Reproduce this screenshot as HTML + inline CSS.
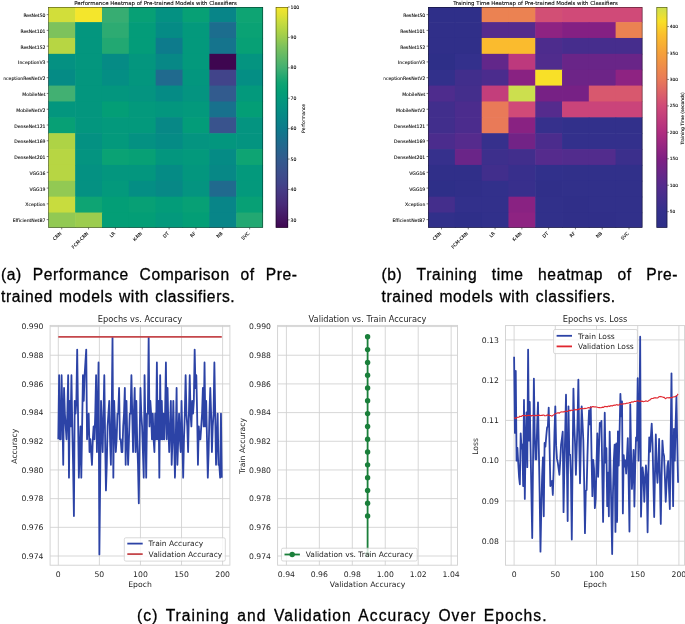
<!DOCTYPE html>
<html><head><meta charset="utf-8"><title>Figure</title>
<style>html,body{margin:0;padding:0;background:#fff}body{width:685px;height:624px;position:relative;overflow:hidden}svg{position:absolute;left:0;top:0}svg text{font-family:'DejaVu Sans','Liberation Sans',sans-serif}.ht{stroke:#000;stroke-width:0.08px}.cap{position:absolute;font-family:"Liberation Sans",sans-serif;font-size:15.6px;line-height:21.6px;letter-spacing:0.6px;color:#000;-webkit-text-stroke:0.3px #000;text-align:justify;white-space:nowrap}</style></head><body>
<svg width="685" height="624" viewBox="0 0 685 624">
<defs>
<linearGradient id="gv" x1="0" y1="0" x2="0" y2="1">
<stop offset="0.0000" stop-color="#f4e62c"/>
<stop offset="0.0413" stop-color="#dde035"/>
<stop offset="0.0689" stop-color="#c8dc3e"/>
<stop offset="0.1102" stop-color="#aed345"/>
<stop offset="0.1377" stop-color="#9ccc4e"/>
<stop offset="0.1791" stop-color="#7dc25c"/>
<stop offset="0.2066" stop-color="#6cbc62"/>
<stop offset="0.2755" stop-color="#42b072"/>
<stop offset="0.3168" stop-color="#22a872"/>
<stop offset="0.3444" stop-color="#0ea473"/>
<stop offset="0.3857" stop-color="#039e76"/>
<stop offset="0.4132" stop-color="#03997c"/>
<stop offset="0.4545" stop-color="#049182"/>
<stop offset="0.4821" stop-color="#058b85"/>
<stop offset="0.5510" stop-color="#0d7b8c"/>
<stop offset="0.6198" stop-color="#206a8e"/>
<stop offset="0.6887" stop-color="#325b8e"/>
<stop offset="0.7576" stop-color="#3d4d8c"/>
<stop offset="0.7989" stop-color="#41448a"/>
<stop offset="0.8264" stop-color="#453c86"/>
<stop offset="0.8953" stop-color="#482a78"/>
<stop offset="0.9642" stop-color="#44145f"/>
<stop offset="1.0000" stop-color="#3e0650"/>
</linearGradient>
<linearGradient id="gp" x1="0" y1="0" x2="0" y2="1">
<stop offset="0.0000" stop-color="#ccdf4e"/>
<stop offset="0.0647" stop-color="#f8e028"/>
<stop offset="0.1246" stop-color="#fbbf2c"/>
<stop offset="0.2084" stop-color="#f5a03a"/>
<stop offset="0.3281" stop-color="#e97a58"/>
<stop offset="0.4479" stop-color="#d04a78"/>
<stop offset="0.5677" stop-color="#b02d80"/>
<stop offset="0.6874" stop-color="#7f1f83"/>
<stop offset="0.8072" stop-color="#552b8d"/>
<stop offset="0.9269" stop-color="#33308c"/>
<stop offset="1.0000" stop-color="#2e2f88"/>
</linearGradient>
</defs>
<rect width="685" height="624" fill="#fff"/>
<g>
<rect x="48.30" y="7.00" width="27.44" height="15.70" fill="#d2de3a"/>
<rect x="75.14" y="7.00" width="27.44" height="15.70" fill="#f4e62c"/>
<rect x="101.99" y="7.00" width="27.44" height="15.70" fill="#37ad72"/>
<rect x="128.83" y="7.00" width="27.44" height="15.70" fill="#07a075"/>
<rect x="155.68" y="7.00" width="27.44" height="15.70" fill="#049182"/>
<rect x="182.52" y="7.00" width="27.44" height="15.70" fill="#07a075"/>
<rect x="209.36" y="7.00" width="27.44" height="15.70" fill="#088588"/>
<rect x="236.21" y="7.00" width="26.84" height="15.70" fill="#0ea473"/>
<rect x="48.30" y="22.10" width="27.44" height="16.47" fill="#7dc25c"/>
<rect x="75.14" y="22.10" width="27.44" height="16.47" fill="#03967e"/>
<rect x="101.99" y="22.10" width="27.44" height="16.47" fill="#2dab72"/>
<rect x="128.83" y="22.10" width="27.44" height="16.47" fill="#039c79"/>
<rect x="155.68" y="22.10" width="27.44" height="16.47" fill="#058b85"/>
<rect x="182.52" y="22.10" width="27.44" height="16.47" fill="#03997c"/>
<rect x="209.36" y="22.10" width="27.44" height="16.47" fill="#1c6d8e"/>
<rect x="236.21" y="22.10" width="26.84" height="16.47" fill="#0aa274"/>
<rect x="48.30" y="37.97" width="27.44" height="16.47" fill="#b7d643"/>
<rect x="75.14" y="37.97" width="27.44" height="16.47" fill="#03967e"/>
<rect x="101.99" y="37.97" width="27.44" height="16.47" fill="#22a872"/>
<rect x="128.83" y="37.97" width="27.44" height="16.47" fill="#039c79"/>
<rect x="155.68" y="37.97" width="27.44" height="16.47" fill="#0d7b8c"/>
<rect x="182.52" y="37.97" width="27.44" height="16.47" fill="#03997c"/>
<rect x="209.36" y="37.97" width="27.44" height="16.47" fill="#15748d"/>
<rect x="236.21" y="37.97" width="26.84" height="16.47" fill="#07a075"/>
<rect x="48.30" y="53.84" width="27.44" height="16.47" fill="#049182"/>
<rect x="75.14" y="53.84" width="27.44" height="16.47" fill="#03967e"/>
<rect x="101.99" y="53.84" width="27.44" height="16.47" fill="#058b85"/>
<rect x="128.83" y="53.84" width="27.44" height="16.47" fill="#03967e"/>
<rect x="155.68" y="53.84" width="27.44" height="16.47" fill="#078886"/>
<rect x="182.52" y="53.84" width="27.44" height="16.47" fill="#03997c"/>
<rect x="209.36" y="53.84" width="27.44" height="16.47" fill="#3e0650"/>
<rect x="236.21" y="53.84" width="26.84" height="16.47" fill="#049480"/>
<rect x="48.30" y="69.71" width="27.44" height="16.47" fill="#058b85"/>
<rect x="75.14" y="69.71" width="27.44" height="16.47" fill="#03967e"/>
<rect x="101.99" y="69.71" width="27.44" height="16.47" fill="#048e84"/>
<rect x="128.83" y="69.71" width="27.44" height="16.47" fill="#03967e"/>
<rect x="155.68" y="69.71" width="27.44" height="16.47" fill="#206a8e"/>
<rect x="182.52" y="69.71" width="27.44" height="16.47" fill="#03967e"/>
<rect x="209.36" y="69.71" width="27.44" height="16.47" fill="#41448a"/>
<rect x="236.21" y="69.71" width="26.84" height="16.47" fill="#048e84"/>
<rect x="48.30" y="85.58" width="27.44" height="16.47" fill="#42b072"/>
<rect x="75.14" y="85.58" width="27.44" height="16.47" fill="#03967e"/>
<rect x="101.99" y="85.58" width="27.44" height="16.47" fill="#03967e"/>
<rect x="128.83" y="85.58" width="27.44" height="16.47" fill="#049480"/>
<rect x="155.68" y="85.58" width="27.44" height="16.47" fill="#058b85"/>
<rect x="182.52" y="85.58" width="27.44" height="16.47" fill="#049480"/>
<rect x="209.36" y="85.58" width="27.44" height="16.47" fill="#325b8e"/>
<rect x="236.21" y="85.58" width="26.84" height="16.47" fill="#03997c"/>
<rect x="48.30" y="101.45" width="27.44" height="16.47" fill="#03967e"/>
<rect x="75.14" y="101.45" width="27.44" height="16.47" fill="#03967e"/>
<rect x="101.99" y="101.45" width="27.44" height="16.47" fill="#039e76"/>
<rect x="128.83" y="101.45" width="27.44" height="16.47" fill="#03997c"/>
<rect x="155.68" y="101.45" width="27.44" height="16.47" fill="#03967e"/>
<rect x="182.52" y="101.45" width="27.44" height="16.47" fill="#03997c"/>
<rect x="209.36" y="101.45" width="27.44" height="16.47" fill="#18718d"/>
<rect x="236.21" y="101.45" width="26.84" height="16.47" fill="#039e76"/>
<rect x="48.30" y="117.32" width="27.44" height="16.47" fill="#07a075"/>
<rect x="75.14" y="117.32" width="27.44" height="16.47" fill="#03967e"/>
<rect x="101.99" y="117.32" width="27.44" height="16.47" fill="#03997c"/>
<rect x="128.83" y="117.32" width="27.44" height="16.47" fill="#03997c"/>
<rect x="155.68" y="117.32" width="27.44" height="16.47" fill="#078886"/>
<rect x="182.52" y="117.32" width="27.44" height="16.47" fill="#039c79"/>
<rect x="209.36" y="117.32" width="27.44" height="16.47" fill="#39538d"/>
<rect x="236.21" y="117.32" width="26.84" height="16.47" fill="#049480"/>
<rect x="48.30" y="133.19" width="27.44" height="16.47" fill="#aed345"/>
<rect x="75.14" y="133.19" width="27.44" height="16.47" fill="#049182"/>
<rect x="101.99" y="133.19" width="27.44" height="16.47" fill="#03997c"/>
<rect x="128.83" y="133.19" width="27.44" height="16.47" fill="#049182"/>
<rect x="155.68" y="133.19" width="27.44" height="16.47" fill="#058b85"/>
<rect x="182.52" y="133.19" width="27.44" height="16.47" fill="#049480"/>
<rect x="209.36" y="133.19" width="27.44" height="16.47" fill="#03967e"/>
<rect x="236.21" y="133.19" width="26.84" height="16.47" fill="#049480"/>
<rect x="48.30" y="149.06" width="27.44" height="16.47" fill="#b7d643"/>
<rect x="75.14" y="149.06" width="27.44" height="16.47" fill="#049480"/>
<rect x="101.99" y="149.06" width="27.44" height="16.47" fill="#0aa274"/>
<rect x="128.83" y="149.06" width="27.44" height="16.47" fill="#07a075"/>
<rect x="155.68" y="149.06" width="27.44" height="16.47" fill="#03967e"/>
<rect x="182.52" y="149.06" width="27.44" height="16.47" fill="#03997c"/>
<rect x="209.36" y="149.06" width="27.44" height="16.47" fill="#058b85"/>
<rect x="236.21" y="149.06" width="26.84" height="16.47" fill="#0ea473"/>
<rect x="48.30" y="164.93" width="27.44" height="16.47" fill="#b7d643"/>
<rect x="75.14" y="164.93" width="27.44" height="16.47" fill="#049182"/>
<rect x="101.99" y="164.93" width="27.44" height="16.47" fill="#03967e"/>
<rect x="128.83" y="164.93" width="27.44" height="16.47" fill="#03967e"/>
<rect x="155.68" y="164.93" width="27.44" height="16.47" fill="#058b85"/>
<rect x="182.52" y="164.93" width="27.44" height="16.47" fill="#03967e"/>
<rect x="209.36" y="164.93" width="27.44" height="16.47" fill="#078886"/>
<rect x="236.21" y="164.93" width="26.84" height="16.47" fill="#03997c"/>
<rect x="48.30" y="180.80" width="27.44" height="16.47" fill="#92c953"/>
<rect x="75.14" y="180.80" width="27.44" height="16.47" fill="#049182"/>
<rect x="101.99" y="180.80" width="27.44" height="16.47" fill="#03997c"/>
<rect x="128.83" y="180.80" width="27.44" height="16.47" fill="#048e84"/>
<rect x="155.68" y="180.80" width="27.44" height="16.47" fill="#078886"/>
<rect x="182.52" y="180.80" width="27.44" height="16.47" fill="#049480"/>
<rect x="209.36" y="180.80" width="27.44" height="16.47" fill="#206a8e"/>
<rect x="236.21" y="180.80" width="26.84" height="16.47" fill="#03997c"/>
<rect x="48.30" y="196.67" width="27.44" height="16.47" fill="#c8dc3e"/>
<rect x="75.14" y="196.67" width="27.44" height="16.47" fill="#0ea473"/>
<rect x="101.99" y="196.67" width="27.44" height="16.47" fill="#039e76"/>
<rect x="128.83" y="196.67" width="27.44" height="16.47" fill="#07a075"/>
<rect x="155.68" y="196.67" width="27.44" height="16.47" fill="#039c79"/>
<rect x="182.52" y="196.67" width="27.44" height="16.47" fill="#07a075"/>
<rect x="209.36" y="196.67" width="27.44" height="16.47" fill="#088588"/>
<rect x="236.21" y="196.67" width="26.84" height="16.47" fill="#07a075"/>
<rect x="48.30" y="212.54" width="27.44" height="15.26" fill="#92c953"/>
<rect x="75.14" y="212.54" width="27.44" height="15.26" fill="#9ccc4e"/>
<rect x="101.99" y="212.54" width="27.44" height="15.26" fill="#039e76"/>
<rect x="128.83" y="212.54" width="27.44" height="15.26" fill="#039e76"/>
<rect x="155.68" y="212.54" width="27.44" height="15.26" fill="#03997c"/>
<rect x="182.52" y="212.54" width="27.44" height="15.26" fill="#039e76"/>
<rect x="209.36" y="212.54" width="27.44" height="15.26" fill="#088588"/>
<rect x="236.21" y="212.54" width="26.84" height="15.26" fill="#22a872"/>
</g>
<rect x="48.58" y="7.28" width="214.19" height="220.24" fill="none" stroke="#000" stroke-width="0.55" stroke-opacity="0.7"/>
<line x1="46.70" y1="14.60" x2="48.30" y2="14.60" stroke="#000" stroke-width="0.5"/>
<text x="45.50" y="17.16" font-size="4.60" text-anchor="end" fill="#000" class="ht">ResNet50</text>
<line x1="46.70" y1="30.37" x2="48.30" y2="30.37" stroke="#000" stroke-width="0.5"/>
<text x="45.50" y="32.93" font-size="4.60" text-anchor="end" fill="#000" class="ht">ResNet101</text>
<line x1="46.70" y1="46.14" x2="48.30" y2="46.14" stroke="#000" stroke-width="0.5"/>
<text x="45.50" y="48.70" font-size="4.60" text-anchor="end" fill="#000" class="ht">ResNet152</text>
<line x1="46.70" y1="61.91" x2="48.30" y2="61.91" stroke="#000" stroke-width="0.5"/>
<text x="45.50" y="64.47" font-size="4.60" text-anchor="end" fill="#000" class="ht">InceptionV3</text>
<line x1="46.70" y1="77.68" x2="48.30" y2="77.68" stroke="#000" stroke-width="0.5"/>
<text x="45.50" y="80.24" font-size="4.60" text-anchor="end" fill="#000" class="ht">InceptionResNetV2</text>
<line x1="46.70" y1="93.45" x2="48.30" y2="93.45" stroke="#000" stroke-width="0.5"/>
<text x="45.50" y="96.01" font-size="4.60" text-anchor="end" fill="#000" class="ht">MobileNet</text>
<line x1="46.70" y1="109.22" x2="48.30" y2="109.22" stroke="#000" stroke-width="0.5"/>
<text x="45.50" y="111.78" font-size="4.60" text-anchor="end" fill="#000" class="ht">MobileNetV2</text>
<line x1="46.70" y1="124.99" x2="48.30" y2="124.99" stroke="#000" stroke-width="0.5"/>
<text x="45.50" y="127.55" font-size="4.60" text-anchor="end" fill="#000" class="ht">DenseNet121</text>
<line x1="46.70" y1="140.76" x2="48.30" y2="140.76" stroke="#000" stroke-width="0.5"/>
<text x="45.50" y="143.32" font-size="4.60" text-anchor="end" fill="#000" class="ht">DenseNet169</text>
<line x1="46.70" y1="156.53" x2="48.30" y2="156.53" stroke="#000" stroke-width="0.5"/>
<text x="45.50" y="159.09" font-size="4.60" text-anchor="end" fill="#000" class="ht">DenseNet201</text>
<line x1="46.70" y1="172.30" x2="48.30" y2="172.30" stroke="#000" stroke-width="0.5"/>
<text x="45.50" y="174.86" font-size="4.60" text-anchor="end" fill="#000" class="ht">VGG16</text>
<line x1="46.70" y1="188.07" x2="48.30" y2="188.07" stroke="#000" stroke-width="0.5"/>
<text x="45.50" y="190.63" font-size="4.60" text-anchor="end" fill="#000" class="ht">VGG19</text>
<line x1="46.70" y1="203.84" x2="48.30" y2="203.84" stroke="#000" stroke-width="0.5"/>
<text x="45.50" y="206.40" font-size="4.60" text-anchor="end" fill="#000" class="ht">Xception</text>
<line x1="46.70" y1="219.61" x2="48.30" y2="219.61" stroke="#000" stroke-width="0.5"/>
<text x="45.50" y="222.17" font-size="4.60" text-anchor="end" fill="#000" class="ht">EfficientNetB7</text>
<line x1="61.72" y1="227.80" x2="61.72" y2="229.40" stroke="#000" stroke-width="0.5"/>
<text transform="translate(61.92 233.70) rotate(-45)" font-size="4.60" text-anchor="end" fill="#000" class="ht">CNN</text>
<line x1="88.57" y1="227.80" x2="88.57" y2="229.40" stroke="#000" stroke-width="0.5"/>
<text transform="translate(88.77 233.70) rotate(-45)" font-size="4.60" text-anchor="end" fill="#000" class="ht">FCM-CNN</text>
<line x1="115.41" y1="227.80" x2="115.41" y2="229.40" stroke="#000" stroke-width="0.5"/>
<text transform="translate(115.61 233.70) rotate(-45)" font-size="4.60" text-anchor="end" fill="#000" class="ht">LR</text>
<line x1="142.25" y1="227.80" x2="142.25" y2="229.40" stroke="#000" stroke-width="0.5"/>
<text transform="translate(142.45 233.70) rotate(-45)" font-size="4.60" text-anchor="end" fill="#000" class="ht">K-NN</text>
<line x1="169.10" y1="227.80" x2="169.10" y2="229.40" stroke="#000" stroke-width="0.5"/>
<text transform="translate(169.30 233.70) rotate(-45)" font-size="4.60" text-anchor="end" fill="#000" class="ht">DT</text>
<line x1="195.94" y1="227.80" x2="195.94" y2="229.40" stroke="#000" stroke-width="0.5"/>
<text transform="translate(196.14 233.70) rotate(-45)" font-size="4.60" text-anchor="end" fill="#000" class="ht">RF</text>
<line x1="222.78" y1="227.80" x2="222.78" y2="229.40" stroke="#000" stroke-width="0.5"/>
<text transform="translate(222.98 233.70) rotate(-45)" font-size="4.60" text-anchor="end" fill="#000" class="ht">NB</text>
<line x1="249.63" y1="227.80" x2="249.63" y2="229.40" stroke="#000" stroke-width="0.5"/>
<text transform="translate(249.83 233.70) rotate(-45)" font-size="4.60" text-anchor="end" fill="#000" class="ht">SVC</text>
<text x="155.50" y="4.80" font-size="5.42" text-anchor="middle" fill="#000" class="ht">Performance Heatmap of Pre-trained Models with Classifiers</text>
<rect x="275.75" y="7.00" width="12.35" height="220.80" fill="url(#gv)"/>
<rect x="276.05" y="7.30" width="11.75" height="220.20" fill="none" stroke="#000" stroke-width="0.6" stroke-opacity="0.65"/>
<line x1="288.10" y1="219.89" x2="289.70" y2="219.89" stroke="#000" stroke-width="0.5"/>
<text x="290.50" y="221.55" font-size="4.60" fill="#000" class="ht">30</text>
<line x1="288.10" y1="189.48" x2="289.70" y2="189.48" stroke="#000" stroke-width="0.5"/>
<text x="290.50" y="191.14" font-size="4.60" fill="#000" class="ht">40</text>
<line x1="288.10" y1="159.07" x2="289.70" y2="159.07" stroke="#000" stroke-width="0.5"/>
<text x="290.50" y="160.72" font-size="4.60" fill="#000" class="ht">50</text>
<line x1="288.10" y1="128.65" x2="289.70" y2="128.65" stroke="#000" stroke-width="0.5"/>
<text x="290.50" y="130.31" font-size="4.60" fill="#000" class="ht">60</text>
<line x1="288.10" y1="98.24" x2="289.70" y2="98.24" stroke="#000" stroke-width="0.5"/>
<text x="290.50" y="99.90" font-size="4.60" fill="#000" class="ht">70</text>
<line x1="288.10" y1="67.83" x2="289.70" y2="67.83" stroke="#000" stroke-width="0.5"/>
<text x="290.50" y="69.48" font-size="4.60" fill="#000" class="ht">80</text>
<line x1="288.10" y1="37.41" x2="289.70" y2="37.41" stroke="#000" stroke-width="0.5"/>
<text x="290.50" y="39.07" font-size="4.60" fill="#000" class="ht">90</text>
<line x1="288.10" y1="7.00" x2="289.70" y2="7.00" stroke="#000" stroke-width="0.5"/>
<text x="290.50" y="8.66" font-size="4.60" fill="#000" class="ht">100</text>
<text transform="translate(305 118.4) rotate(-90)" font-size="4.6" text-anchor="middle" fill="#000" class="ht">Performance</text>
<g>
<rect x="428.10" y="7.00" width="27.39" height="15.70" fill="#2f2f89"/>
<rect x="454.89" y="7.00" width="27.39" height="15.70" fill="#2f2f89"/>
<rect x="481.68" y="7.00" width="27.39" height="15.70" fill="#eb8252"/>
<rect x="508.46" y="7.00" width="27.39" height="15.70" fill="#eb8252"/>
<rect x="535.25" y="7.00" width="27.39" height="15.70" fill="#d24f75"/>
<rect x="562.04" y="7.00" width="27.39" height="15.70" fill="#d04a78"/>
<rect x="588.83" y="7.00" width="27.39" height="15.70" fill="#d04a78"/>
<rect x="615.61" y="7.00" width="26.79" height="15.70" fill="#d04a78"/>
<rect x="428.10" y="22.10" width="27.39" height="16.47" fill="#302f89"/>
<rect x="454.89" y="22.10" width="27.39" height="16.47" fill="#302f89"/>
<rect x="481.68" y="22.10" width="27.39" height="16.47" fill="#552b8d"/>
<rect x="508.46" y="22.10" width="27.39" height="16.47" fill="#552b8d"/>
<rect x="535.25" y="22.10" width="27.39" height="16.47" fill="#8e2382"/>
<rect x="562.04" y="22.10" width="27.39" height="16.47" fill="#842083"/>
<rect x="588.83" y="22.10" width="27.39" height="16.47" fill="#842083"/>
<rect x="615.61" y="22.10" width="26.79" height="16.47" fill="#eb8252"/>
<rect x="428.10" y="37.97" width="27.39" height="16.47" fill="#302f89"/>
<rect x="454.89" y="37.97" width="27.39" height="16.47" fill="#302f89"/>
<rect x="481.68" y="37.97" width="27.39" height="16.47" fill="#fabb2e"/>
<rect x="508.46" y="37.97" width="27.39" height="16.47" fill="#fabb2e"/>
<rect x="535.25" y="37.97" width="27.39" height="16.47" fill="#4d2c8d"/>
<rect x="562.04" y="37.97" width="27.39" height="16.47" fill="#462d8d"/>
<rect x="588.83" y="37.97" width="27.39" height="16.47" fill="#462d8d"/>
<rect x="615.61" y="37.97" width="26.79" height="16.47" fill="#462d8d"/>
<rect x="428.10" y="53.84" width="27.39" height="16.47" fill="#2e2f88"/>
<rect x="454.89" y="53.84" width="27.39" height="16.47" fill="#33308c"/>
<rect x="481.68" y="53.84" width="27.39" height="16.47" fill="#62278a"/>
<rect x="508.46" y="53.84" width="27.39" height="16.47" fill="#bd397d"/>
<rect x="535.25" y="53.84" width="27.39" height="16.47" fill="#502c8d"/>
<rect x="562.04" y="53.84" width="27.39" height="16.47" fill="#692588"/>
<rect x="588.83" y="53.84" width="27.39" height="16.47" fill="#692588"/>
<rect x="615.61" y="53.84" width="26.79" height="16.47" fill="#692588"/>
<rect x="428.10" y="69.71" width="27.39" height="16.47" fill="#32308b"/>
<rect x="454.89" y="69.71" width="27.39" height="16.47" fill="#412e8c"/>
<rect x="481.68" y="69.71" width="27.39" height="16.47" fill="#4b2c8d"/>
<rect x="508.46" y="69.71" width="27.39" height="16.47" fill="#892282"/>
<rect x="535.25" y="69.71" width="27.39" height="16.47" fill="#f8e028"/>
<rect x="562.04" y="69.71" width="27.39" height="16.47" fill="#6d2487"/>
<rect x="588.83" y="69.71" width="27.39" height="16.47" fill="#6d2487"/>
<rect x="615.61" y="69.71" width="26.79" height="16.47" fill="#8e2382"/>
<rect x="428.10" y="85.58" width="27.39" height="16.47" fill="#4e2c8d"/>
<rect x="454.89" y="85.58" width="27.39" height="16.47" fill="#442e8c"/>
<rect x="481.68" y="85.58" width="27.39" height="16.47" fill="#c33e7b"/>
<rect x="508.46" y="85.58" width="27.39" height="16.47" fill="#ccdf4e"/>
<rect x="535.25" y="85.58" width="27.39" height="16.47" fill="#772185"/>
<rect x="562.04" y="85.58" width="27.39" height="16.47" fill="#772185"/>
<rect x="588.83" y="85.58" width="27.39" height="16.47" fill="#d8586e"/>
<rect x="615.61" y="85.58" width="26.79" height="16.47" fill="#d8586e"/>
<rect x="428.10" y="101.45" width="27.39" height="16.47" fill="#412e8c"/>
<rect x="454.89" y="101.45" width="27.39" height="16.47" fill="#4b2c8d"/>
<rect x="481.68" y="101.45" width="27.39" height="16.47" fill="#e97a58"/>
<rect x="508.46" y="101.45" width="27.39" height="16.47" fill="#d04a78"/>
<rect x="535.25" y="101.45" width="27.39" height="16.47" fill="#552b8d"/>
<rect x="562.04" y="101.45" width="27.39" height="16.47" fill="#ca447a"/>
<rect x="588.83" y="101.45" width="27.39" height="16.47" fill="#ca447a"/>
<rect x="615.61" y="101.45" width="26.79" height="16.47" fill="#ca447a"/>
<rect x="428.10" y="117.32" width="27.39" height="16.47" fill="#412e8c"/>
<rect x="454.89" y="117.32" width="27.39" height="16.47" fill="#4b2c8d"/>
<rect x="481.68" y="117.32" width="27.39" height="16.47" fill="#e97a58"/>
<rect x="508.46" y="117.32" width="27.39" height="16.47" fill="#892282"/>
<rect x="535.25" y="117.32" width="27.39" height="16.47" fill="#36308c"/>
<rect x="562.04" y="117.32" width="27.39" height="16.47" fill="#32308b"/>
<rect x="588.83" y="117.32" width="27.39" height="16.47" fill="#32308b"/>
<rect x="615.61" y="117.32" width="26.79" height="16.47" fill="#32308b"/>
<rect x="428.10" y="133.19" width="27.39" height="16.47" fill="#4b2c8d"/>
<rect x="454.89" y="133.19" width="27.39" height="16.47" fill="#552b8d"/>
<rect x="481.68" y="133.19" width="27.39" height="16.47" fill="#36308c"/>
<rect x="508.46" y="133.19" width="27.39" height="16.47" fill="#722386"/>
<rect x="535.25" y="133.19" width="27.39" height="16.47" fill="#4b2c8d"/>
<rect x="562.04" y="133.19" width="27.39" height="16.47" fill="#33308c"/>
<rect x="588.83" y="133.19" width="27.39" height="16.47" fill="#33308c"/>
<rect x="615.61" y="133.19" width="26.79" height="16.47" fill="#33308c"/>
<rect x="428.10" y="149.06" width="27.39" height="16.47" fill="#36308c"/>
<rect x="454.89" y="149.06" width="27.39" height="16.47" fill="#6a2588"/>
<rect x="481.68" y="149.06" width="27.39" height="16.47" fill="#3d2f8c"/>
<rect x="508.46" y="149.06" width="27.39" height="16.47" fill="#412e8c"/>
<rect x="535.25" y="149.06" width="27.39" height="16.47" fill="#552b8d"/>
<rect x="562.04" y="149.06" width="27.39" height="16.47" fill="#522c8d"/>
<rect x="588.83" y="149.06" width="27.39" height="16.47" fill="#522c8d"/>
<rect x="615.61" y="149.06" width="26.79" height="16.47" fill="#3b2f8c"/>
<rect x="428.10" y="164.93" width="27.39" height="16.47" fill="#302f89"/>
<rect x="454.89" y="164.93" width="27.39" height="16.47" fill="#302f89"/>
<rect x="481.68" y="164.93" width="27.39" height="16.47" fill="#412e8c"/>
<rect x="508.46" y="164.93" width="27.39" height="16.47" fill="#382f8c"/>
<rect x="535.25" y="164.93" width="27.39" height="16.47" fill="#31308b"/>
<rect x="562.04" y="164.93" width="27.39" height="16.47" fill="#31308a"/>
<rect x="588.83" y="164.93" width="27.39" height="16.47" fill="#31308a"/>
<rect x="615.61" y="164.93" width="26.79" height="16.47" fill="#31308a"/>
<rect x="428.10" y="180.80" width="27.39" height="16.47" fill="#2e2f88"/>
<rect x="454.89" y="180.80" width="27.39" height="16.47" fill="#302f89"/>
<rect x="481.68" y="180.80" width="27.39" height="16.47" fill="#32308b"/>
<rect x="508.46" y="180.80" width="27.39" height="16.47" fill="#382f8c"/>
<rect x="535.25" y="180.80" width="27.39" height="16.47" fill="#302f89"/>
<rect x="562.04" y="180.80" width="27.39" height="16.47" fill="#31308a"/>
<rect x="588.83" y="180.80" width="27.39" height="16.47" fill="#31308a"/>
<rect x="615.61" y="180.80" width="26.79" height="16.47" fill="#31308a"/>
<rect x="428.10" y="196.67" width="27.39" height="16.47" fill="#442e8c"/>
<rect x="454.89" y="196.67" width="27.39" height="16.47" fill="#32308b"/>
<rect x="481.68" y="196.67" width="27.39" height="16.47" fill="#32308b"/>
<rect x="508.46" y="196.67" width="27.39" height="16.47" fill="#892282"/>
<rect x="535.25" y="196.67" width="27.39" height="16.47" fill="#31308a"/>
<rect x="562.04" y="196.67" width="27.39" height="16.47" fill="#302f89"/>
<rect x="588.83" y="196.67" width="27.39" height="16.47" fill="#31308a"/>
<rect x="615.61" y="196.67" width="26.79" height="16.47" fill="#31308a"/>
<rect x="428.10" y="212.54" width="27.39" height="15.26" fill="#31308a"/>
<rect x="454.89" y="212.54" width="27.39" height="15.26" fill="#2f2f89"/>
<rect x="481.68" y="212.54" width="27.39" height="15.26" fill="#31308b"/>
<rect x="508.46" y="212.54" width="27.39" height="15.26" fill="#8e2382"/>
<rect x="535.25" y="212.54" width="27.39" height="15.26" fill="#31308a"/>
<rect x="562.04" y="212.54" width="27.39" height="15.26" fill="#302f89"/>
<rect x="588.83" y="212.54" width="27.39" height="15.26" fill="#302f89"/>
<rect x="615.61" y="212.54" width="26.79" height="15.26" fill="#31308a"/>
</g>
<rect x="428.38" y="7.28" width="213.74" height="220.24" fill="none" stroke="#000" stroke-width="0.55" stroke-opacity="0.7"/>
<line x1="426.50" y1="14.60" x2="428.10" y2="14.60" stroke="#000" stroke-width="0.5"/>
<text x="425.30" y="17.16" font-size="4.60" text-anchor="end" fill="#000" class="ht">ResNet50</text>
<line x1="426.50" y1="30.37" x2="428.10" y2="30.37" stroke="#000" stroke-width="0.5"/>
<text x="425.30" y="32.93" font-size="4.60" text-anchor="end" fill="#000" class="ht">ResNet101</text>
<line x1="426.50" y1="46.14" x2="428.10" y2="46.14" stroke="#000" stroke-width="0.5"/>
<text x="425.30" y="48.70" font-size="4.60" text-anchor="end" fill="#000" class="ht">ResNet152</text>
<line x1="426.50" y1="61.91" x2="428.10" y2="61.91" stroke="#000" stroke-width="0.5"/>
<text x="425.30" y="64.47" font-size="4.60" text-anchor="end" fill="#000" class="ht">InceptionV3</text>
<line x1="426.50" y1="77.68" x2="428.10" y2="77.68" stroke="#000" stroke-width="0.5"/>
<text x="425.30" y="80.24" font-size="4.60" text-anchor="end" fill="#000" class="ht">InceptionResNetV2</text>
<line x1="426.50" y1="93.45" x2="428.10" y2="93.45" stroke="#000" stroke-width="0.5"/>
<text x="425.30" y="96.01" font-size="4.60" text-anchor="end" fill="#000" class="ht">MobileNet</text>
<line x1="426.50" y1="109.22" x2="428.10" y2="109.22" stroke="#000" stroke-width="0.5"/>
<text x="425.30" y="111.78" font-size="4.60" text-anchor="end" fill="#000" class="ht">MobileNetV2</text>
<line x1="426.50" y1="124.99" x2="428.10" y2="124.99" stroke="#000" stroke-width="0.5"/>
<text x="425.30" y="127.55" font-size="4.60" text-anchor="end" fill="#000" class="ht">DenseNet121</text>
<line x1="426.50" y1="140.76" x2="428.10" y2="140.76" stroke="#000" stroke-width="0.5"/>
<text x="425.30" y="143.32" font-size="4.60" text-anchor="end" fill="#000" class="ht">DenseNet169</text>
<line x1="426.50" y1="156.53" x2="428.10" y2="156.53" stroke="#000" stroke-width="0.5"/>
<text x="425.30" y="159.09" font-size="4.60" text-anchor="end" fill="#000" class="ht">DenseNet201</text>
<line x1="426.50" y1="172.30" x2="428.10" y2="172.30" stroke="#000" stroke-width="0.5"/>
<text x="425.30" y="174.86" font-size="4.60" text-anchor="end" fill="#000" class="ht">VGG16</text>
<line x1="426.50" y1="188.07" x2="428.10" y2="188.07" stroke="#000" stroke-width="0.5"/>
<text x="425.30" y="190.63" font-size="4.60" text-anchor="end" fill="#000" class="ht">VGG19</text>
<line x1="426.50" y1="203.84" x2="428.10" y2="203.84" stroke="#000" stroke-width="0.5"/>
<text x="425.30" y="206.40" font-size="4.60" text-anchor="end" fill="#000" class="ht">Xception</text>
<line x1="426.50" y1="219.61" x2="428.10" y2="219.61" stroke="#000" stroke-width="0.5"/>
<text x="425.30" y="222.17" font-size="4.60" text-anchor="end" fill="#000" class="ht">EfficientNetB7</text>
<line x1="441.49" y1="227.80" x2="441.49" y2="229.40" stroke="#000" stroke-width="0.5"/>
<text transform="translate(441.69 233.70) rotate(-45)" font-size="4.60" text-anchor="end" fill="#000" class="ht">CNN</text>
<line x1="468.28" y1="227.80" x2="468.28" y2="229.40" stroke="#000" stroke-width="0.5"/>
<text transform="translate(468.48 233.70) rotate(-45)" font-size="4.60" text-anchor="end" fill="#000" class="ht">FCM-CNN</text>
<line x1="495.07" y1="227.80" x2="495.07" y2="229.40" stroke="#000" stroke-width="0.5"/>
<text transform="translate(495.27 233.70) rotate(-45)" font-size="4.60" text-anchor="end" fill="#000" class="ht">LR</text>
<line x1="521.86" y1="227.80" x2="521.86" y2="229.40" stroke="#000" stroke-width="0.5"/>
<text transform="translate(522.06 233.70) rotate(-45)" font-size="4.60" text-anchor="end" fill="#000" class="ht">K-NN</text>
<line x1="548.64" y1="227.80" x2="548.64" y2="229.40" stroke="#000" stroke-width="0.5"/>
<text transform="translate(548.84 233.70) rotate(-45)" font-size="4.60" text-anchor="end" fill="#000" class="ht">DT</text>
<line x1="575.43" y1="227.80" x2="575.43" y2="229.40" stroke="#000" stroke-width="0.5"/>
<text transform="translate(575.63 233.70) rotate(-45)" font-size="4.60" text-anchor="end" fill="#000" class="ht">RF</text>
<line x1="602.22" y1="227.80" x2="602.22" y2="229.40" stroke="#000" stroke-width="0.5"/>
<text transform="translate(602.42 233.70) rotate(-45)" font-size="4.60" text-anchor="end" fill="#000" class="ht">NB</text>
<line x1="629.01" y1="227.80" x2="629.01" y2="229.40" stroke="#000" stroke-width="0.5"/>
<text transform="translate(629.21 233.70) rotate(-45)" font-size="4.60" text-anchor="end" fill="#000" class="ht">SVC</text>
<text x="535.50" y="4.80" font-size="5.42" text-anchor="middle" fill="#000" class="ht">Training Time Heatmap of Pre-trained Models with Classifiers</text>
<rect x="656.50" y="7.00" width="10.80" height="220.80" fill="url(#gp)"/>
<rect x="656.80" y="7.30" width="10.20" height="220.20" fill="none" stroke="#000" stroke-width="0.6" stroke-opacity="0.65"/>
<line x1="667.30" y1="211.67" x2="668.90" y2="211.67" stroke="#000" stroke-width="0.5"/>
<text x="669.70" y="213.25" font-size="4.40" fill="#000" class="ht">50</text>
<line x1="667.30" y1="185.23" x2="668.90" y2="185.23" stroke="#000" stroke-width="0.5"/>
<text x="669.70" y="186.81" font-size="4.40" fill="#000" class="ht">100</text>
<line x1="667.30" y1="158.78" x2="668.90" y2="158.78" stroke="#000" stroke-width="0.5"/>
<text x="669.70" y="160.37" font-size="4.40" fill="#000" class="ht">150</text>
<line x1="667.30" y1="132.34" x2="668.90" y2="132.34" stroke="#000" stroke-width="0.5"/>
<text x="669.70" y="133.92" font-size="4.40" fill="#000" class="ht">200</text>
<line x1="667.30" y1="105.90" x2="668.90" y2="105.90" stroke="#000" stroke-width="0.5"/>
<text x="669.70" y="107.48" font-size="4.40" fill="#000" class="ht">250</text>
<line x1="667.30" y1="79.45" x2="668.90" y2="79.45" stroke="#000" stroke-width="0.5"/>
<text x="669.70" y="81.04" font-size="4.40" fill="#000" class="ht">300</text>
<line x1="667.30" y1="53.01" x2="668.90" y2="53.01" stroke="#000" stroke-width="0.5"/>
<text x="669.70" y="54.60" font-size="4.40" fill="#000" class="ht">350</text>
<line x1="667.30" y1="26.57" x2="668.90" y2="26.57" stroke="#000" stroke-width="0.5"/>
<text x="669.70" y="28.15" font-size="4.40" fill="#000" class="ht">400</text>
<text transform="translate(684.2 118.4) rotate(-90)" font-size="4.4" text-anchor="middle" fill="#000" class="ht">Training Time (seconds)</text>
<rect x="0" y="70" width="3.3" height="12" fill="#fff"/>
<rect x="376" y="70" width="7.4" height="12" fill="#fff"/>
<rect x="50.10" y="325.40" width="179.80" height="239.80" fill="#fff" stroke="none"/>
<line x1="58.30" y1="325.40" x2="58.30" y2="565.20" stroke="#d0d0d0" stroke-width="0.85"/>
<text x="58.30" y="577.20" font-size="7.70" text-anchor="middle" fill="#262626">0</text>
<line x1="99.38" y1="325.40" x2="99.38" y2="565.20" stroke="#d0d0d0" stroke-width="0.85"/>
<text x="99.38" y="577.20" font-size="7.70" text-anchor="middle" fill="#262626">50</text>
<line x1="140.45" y1="325.40" x2="140.45" y2="565.20" stroke="#d0d0d0" stroke-width="0.85"/>
<text x="140.45" y="577.20" font-size="7.70" text-anchor="middle" fill="#262626">100</text>
<line x1="181.52" y1="325.40" x2="181.52" y2="565.20" stroke="#d0d0d0" stroke-width="0.85"/>
<text x="181.52" y="577.20" font-size="7.70" text-anchor="middle" fill="#262626">150</text>
<line x1="222.60" y1="325.40" x2="222.60" y2="565.20" stroke="#d0d0d0" stroke-width="0.85"/>
<text x="222.60" y="577.20" font-size="7.70" text-anchor="middle" fill="#262626">200</text>
<line x1="50.10" y1="556.00" x2="229.90" y2="556.00" stroke="#d0d0d0" stroke-width="0.85"/>
<text x="43.50" y="558.66" font-size="7.70" text-anchor="end" fill="#262626">0.974</text>
<line x1="50.10" y1="527.32" x2="229.90" y2="527.32" stroke="#d0d0d0" stroke-width="0.85"/>
<text x="43.50" y="529.98" font-size="7.70" text-anchor="end" fill="#262626">0.976</text>
<line x1="50.10" y1="498.64" x2="229.90" y2="498.64" stroke="#d0d0d0" stroke-width="0.85"/>
<text x="43.50" y="501.30" font-size="7.70" text-anchor="end" fill="#262626">0.978</text>
<line x1="50.10" y1="469.96" x2="229.90" y2="469.96" stroke="#d0d0d0" stroke-width="0.85"/>
<text x="43.50" y="472.62" font-size="7.70" text-anchor="end" fill="#262626">0.980</text>
<line x1="50.10" y1="441.28" x2="229.90" y2="441.28" stroke="#d0d0d0" stroke-width="0.85"/>
<text x="43.50" y="443.94" font-size="7.70" text-anchor="end" fill="#262626">0.982</text>
<line x1="50.10" y1="412.60" x2="229.90" y2="412.60" stroke="#d0d0d0" stroke-width="0.85"/>
<text x="43.50" y="415.26" font-size="7.70" text-anchor="end" fill="#262626">0.984</text>
<line x1="50.10" y1="383.92" x2="229.90" y2="383.92" stroke="#d0d0d0" stroke-width="0.85"/>
<text x="43.50" y="386.58" font-size="7.70" text-anchor="end" fill="#262626">0.986</text>
<line x1="50.10" y1="355.24" x2="229.90" y2="355.24" stroke="#d0d0d0" stroke-width="0.85"/>
<text x="43.50" y="357.90" font-size="7.70" text-anchor="end" fill="#262626">0.988</text>
<line x1="50.10" y1="326.56" x2="229.90" y2="326.56" stroke="#d0d0d0" stroke-width="0.85"/>
<text x="43.50" y="329.22" font-size="7.70" text-anchor="end" fill="#262626">0.990</text>
<text x="140.00" y="321.80" font-size="8.25" text-anchor="middle" fill="#262626">Epochs vs. Accuracy</text>
<text x="140.00" y="587.00" font-size="7.70" text-anchor="middle" fill="#262626">Epoch</text>
<text transform="translate(16.9 446.2) rotate(-90)" font-size="7.7" text-anchor="middle" fill="#262626">Accuracy</text>
<rect x="50.10" y="325.40" width="179.80" height="239.80" fill="none" stroke="#d0d0d0" stroke-width="0.9"/>
<rect x="277.60" y="325.40" width="179.90" height="239.80" fill="#fff" stroke="none"/>
<line x1="286.40" y1="325.40" x2="286.40" y2="565.20" stroke="#d0d0d0" stroke-width="0.85"/>
<text x="286.40" y="577.20" font-size="7.70" text-anchor="middle" fill="#262626">0.94</text>
<line x1="319.35" y1="325.40" x2="319.35" y2="565.20" stroke="#d0d0d0" stroke-width="0.85"/>
<text x="319.35" y="577.20" font-size="7.70" text-anchor="middle" fill="#262626">0.96</text>
<line x1="352.30" y1="325.40" x2="352.30" y2="565.20" stroke="#d0d0d0" stroke-width="0.85"/>
<text x="352.30" y="577.20" font-size="7.70" text-anchor="middle" fill="#262626">0.98</text>
<line x1="385.25" y1="325.40" x2="385.25" y2="565.20" stroke="#d0d0d0" stroke-width="0.85"/>
<text x="385.25" y="577.20" font-size="7.70" text-anchor="middle" fill="#262626">1.00</text>
<line x1="418.20" y1="325.40" x2="418.20" y2="565.20" stroke="#d0d0d0" stroke-width="0.85"/>
<text x="418.20" y="577.20" font-size="7.70" text-anchor="middle" fill="#262626">1.02</text>
<line x1="451.15" y1="325.40" x2="451.15" y2="565.20" stroke="#d0d0d0" stroke-width="0.85"/>
<text x="451.15" y="577.20" font-size="7.70" text-anchor="middle" fill="#262626">1.04</text>
<line x1="277.60" y1="556.00" x2="457.50" y2="556.00" stroke="#d0d0d0" stroke-width="0.85"/>
<text x="271.00" y="558.66" font-size="7.70" text-anchor="end" fill="#262626">0.974</text>
<line x1="277.60" y1="527.32" x2="457.50" y2="527.32" stroke="#d0d0d0" stroke-width="0.85"/>
<text x="271.00" y="529.98" font-size="7.70" text-anchor="end" fill="#262626">0.976</text>
<line x1="277.60" y1="498.64" x2="457.50" y2="498.64" stroke="#d0d0d0" stroke-width="0.85"/>
<text x="271.00" y="501.30" font-size="7.70" text-anchor="end" fill="#262626">0.978</text>
<line x1="277.60" y1="469.96" x2="457.50" y2="469.96" stroke="#d0d0d0" stroke-width="0.85"/>
<text x="271.00" y="472.62" font-size="7.70" text-anchor="end" fill="#262626">0.980</text>
<line x1="277.60" y1="441.28" x2="457.50" y2="441.28" stroke="#d0d0d0" stroke-width="0.85"/>
<text x="271.00" y="443.94" font-size="7.70" text-anchor="end" fill="#262626">0.982</text>
<line x1="277.60" y1="412.60" x2="457.50" y2="412.60" stroke="#d0d0d0" stroke-width="0.85"/>
<text x="271.00" y="415.26" font-size="7.70" text-anchor="end" fill="#262626">0.984</text>
<line x1="277.60" y1="383.92" x2="457.50" y2="383.92" stroke="#d0d0d0" stroke-width="0.85"/>
<text x="271.00" y="386.58" font-size="7.70" text-anchor="end" fill="#262626">0.986</text>
<line x1="277.60" y1="355.24" x2="457.50" y2="355.24" stroke="#d0d0d0" stroke-width="0.85"/>
<text x="271.00" y="357.90" font-size="7.70" text-anchor="end" fill="#262626">0.988</text>
<line x1="277.60" y1="326.56" x2="457.50" y2="326.56" stroke="#d0d0d0" stroke-width="0.85"/>
<text x="271.00" y="329.22" font-size="7.70" text-anchor="end" fill="#262626">0.990</text>
<text x="367.55" y="321.80" font-size="8.25" text-anchor="middle" fill="#262626">Validation vs. Train Accuracy</text>
<text x="367.55" y="587.00" font-size="7.70" text-anchor="middle" fill="#262626">Validation Accuracy</text>
<text transform="translate(245 446) rotate(-90)" font-size="7.7" text-anchor="middle" fill="#262626">Train Accuracy</text>
<rect x="277.60" y="325.40" width="179.90" height="239.80" fill="none" stroke="#d0d0d0" stroke-width="0.9"/>
<rect x="505.50" y="325.60" width="179.10" height="239.60" fill="#fff" stroke="none"/>
<line x1="514.10" y1="325.60" x2="514.10" y2="565.20" stroke="#d0d0d0" stroke-width="0.85"/>
<text x="514.10" y="577.20" font-size="7.70" text-anchor="middle" fill="#262626">0</text>
<line x1="555.30" y1="325.60" x2="555.30" y2="565.20" stroke="#d0d0d0" stroke-width="0.85"/>
<text x="555.30" y="577.20" font-size="7.70" text-anchor="middle" fill="#262626">50</text>
<line x1="596.50" y1="325.60" x2="596.50" y2="565.20" stroke="#d0d0d0" stroke-width="0.85"/>
<text x="596.50" y="577.20" font-size="7.70" text-anchor="middle" fill="#262626">100</text>
<line x1="637.70" y1="325.60" x2="637.70" y2="565.20" stroke="#d0d0d0" stroke-width="0.85"/>
<text x="637.70" y="577.20" font-size="7.70" text-anchor="middle" fill="#262626">150</text>
<line x1="678.90" y1="325.60" x2="678.90" y2="565.20" stroke="#d0d0d0" stroke-width="0.85"/>
<text x="678.90" y="577.20" font-size="7.70" text-anchor="middle" fill="#262626">200</text>
<line x1="505.50" y1="541.20" x2="684.60" y2="541.20" stroke="#d0d0d0" stroke-width="0.85"/>
<text x="498.90" y="543.86" font-size="7.70" text-anchor="end" fill="#262626">0.08</text>
<line x1="505.50" y1="500.94" x2="684.60" y2="500.94" stroke="#d0d0d0" stroke-width="0.85"/>
<text x="498.90" y="503.60" font-size="7.70" text-anchor="end" fill="#262626">0.09</text>
<line x1="505.50" y1="460.68" x2="684.60" y2="460.68" stroke="#d0d0d0" stroke-width="0.85"/>
<text x="498.90" y="463.34" font-size="7.70" text-anchor="end" fill="#262626">0.10</text>
<line x1="505.50" y1="420.42" x2="684.60" y2="420.42" stroke="#d0d0d0" stroke-width="0.85"/>
<text x="498.90" y="423.08" font-size="7.70" text-anchor="end" fill="#262626">0.11</text>
<line x1="505.50" y1="380.16" x2="684.60" y2="380.16" stroke="#d0d0d0" stroke-width="0.85"/>
<text x="498.90" y="382.82" font-size="7.70" text-anchor="end" fill="#262626">0.12</text>
<line x1="505.50" y1="339.90" x2="684.60" y2="339.90" stroke="#d0d0d0" stroke-width="0.85"/>
<text x="498.90" y="342.56" font-size="7.70" text-anchor="end" fill="#262626">0.13</text>
<text x="595.05" y="322.00" font-size="8.25" text-anchor="middle" fill="#262626">Epochs vs. Loss</text>
<text x="595.05" y="587.00" font-size="7.70" text-anchor="middle" fill="#262626">Epoch</text>
<text transform="translate(478.4 446.4) rotate(-90)" font-size="7.7" text-anchor="middle" fill="#262626">Loss</text>
<rect x="505.50" y="325.60" width="179.10" height="239.60" fill="none" stroke="#d0d0d0" stroke-width="0.9"/>
<polyline fill="none" stroke="#2c43a6" stroke-width="1.80" stroke-linejoin="round" stroke-linecap="butt" points="58.30,439.23 59.12,375.21 59.94,439.23 60.76,439.23 61.59,375.21 62.41,413.62 63.23,464.84 64.05,388.02 64.87,413.62 65.69,426.43 66.52,439.23 67.34,413.62 68.16,375.21 68.98,477.64 69.80,400.82 70.62,426.43 71.44,375.21 72.27,426.43 73.09,464.84 73.91,516.05 74.73,400.82 75.55,413.62 76.37,400.82 77.19,349.61 78.02,413.62 78.84,477.64 79.66,452.04 80.48,426.43 81.30,477.64 82.12,426.43 82.94,375.21 83.77,400.82 84.59,375.21 85.41,362.41 86.23,349.61 87.05,439.23 87.87,426.43 88.70,413.62 89.52,452.04 90.34,439.23 91.16,452.04 91.98,464.84 92.80,439.23 93.62,426.43 94.45,439.23 95.27,413.62 96.09,375.21 96.91,452.04 97.73,413.62 98.55,362.41 99.38,554.46 100.20,477.64 101.02,400.82 101.84,426.43 102.66,452.04 103.48,413.62 104.30,375.21 105.13,439.23 105.95,490.45 106.77,464.84 107.59,426.43 108.41,413.62 109.23,400.82 110.05,439.23 110.88,464.84 111.70,413.62 112.52,336.80 113.34,477.64 114.16,400.82 114.98,426.43 115.81,452.04 116.63,439.23 117.45,413.62 118.27,413.62 119.09,388.02 119.91,439.23 120.73,439.23 121.56,452.04 122.38,452.04 123.20,426.43 124.02,413.62 124.84,388.02 125.66,464.84 126.48,400.82 127.31,439.23 128.13,464.84 128.95,439.23 129.77,413.62 130.59,413.62 131.41,375.21 132.24,413.62 133.06,452.04 133.88,413.62 134.70,388.02 135.52,452.04 136.34,400.82 137.16,439.23 137.99,464.84 138.81,503.25 139.63,439.23 140.45,388.02 141.27,413.62 142.09,426.43 142.91,452.04 143.74,477.64 144.56,375.21 145.38,426.43 146.20,477.64 147.02,413.62 147.84,413.62 148.66,336.80 149.49,426.43 150.31,400.82 151.13,413.62 151.95,439.23 152.77,413.62 153.59,439.23 154.42,452.04 155.24,413.62 156.06,439.23 156.88,362.41 157.70,439.23 158.52,400.82 159.34,477.64 160.17,375.21 160.99,439.23 161.81,400.82 162.63,439.23 163.45,413.62 164.27,439.23 165.09,413.62 165.92,362.41 166.74,439.23 167.56,388.02 168.38,426.43 169.20,452.04 170.02,426.43 170.85,400.82 171.67,464.84 172.49,439.23 173.31,400.82 174.13,439.23 174.95,477.64 175.77,439.23 176.60,388.02 177.42,464.84 178.24,439.23 179.06,413.62 179.88,439.23 180.70,452.04 181.52,400.82 182.35,439.23 183.17,477.64 183.99,439.23 184.81,413.62 185.63,375.21 186.45,413.62 187.28,426.43 188.10,452.04 188.92,413.62 189.74,375.21 190.56,413.62 191.38,426.43 192.20,400.82 193.03,413.62 193.85,400.82 194.67,349.61 195.49,388.02 196.31,375.21 197.13,413.62 197.95,464.84 198.78,426.43 199.60,439.23 200.42,439.23 201.24,426.43 202.06,413.62 202.88,388.02 203.71,426.43 204.53,362.41 205.35,426.43 206.17,400.82 206.99,439.23 207.81,477.64 208.63,452.04 209.46,413.62 210.28,388.02 211.10,413.62 211.92,452.04 212.74,426.43 213.56,413.62 214.38,362.41 215.21,413.62 216.03,464.84 216.85,439.23 217.67,413.62 218.49,464.84 219.31,464.84 220.14,477.64 220.96,413.62 221.78,477.64"/>
<polyline fill="none" stroke="#c5474b" stroke-width="1.80" stroke-linejoin="round" stroke-linecap="butt" points="58.30,336.80 221.78,336.80"/>
<polyline fill="none" stroke="#1a7f3a" stroke-width="1.80" stroke-linejoin="round" stroke-linecap="butt" points="367.60,336.80 367.60,554.46"/>
<circle cx="367.60" cy="336.80" r="2.7" fill="#1a7f3a"/>
<circle cx="367.60" cy="349.61" r="2.7" fill="#1a7f3a"/>
<circle cx="367.60" cy="362.41" r="2.7" fill="#1a7f3a"/>
<circle cx="367.60" cy="375.21" r="2.7" fill="#1a7f3a"/>
<circle cx="367.60" cy="388.02" r="2.7" fill="#1a7f3a"/>
<circle cx="367.60" cy="400.82" r="2.7" fill="#1a7f3a"/>
<circle cx="367.60" cy="413.62" r="2.7" fill="#1a7f3a"/>
<circle cx="367.60" cy="426.43" r="2.7" fill="#1a7f3a"/>
<circle cx="367.60" cy="439.23" r="2.7" fill="#1a7f3a"/>
<circle cx="367.60" cy="452.04" r="2.7" fill="#1a7f3a"/>
<circle cx="367.60" cy="464.84" r="2.7" fill="#1a7f3a"/>
<circle cx="367.60" cy="477.64" r="2.7" fill="#1a7f3a"/>
<circle cx="367.60" cy="490.45" r="2.7" fill="#1a7f3a"/>
<circle cx="367.60" cy="503.25" r="2.7" fill="#1a7f3a"/>
<circle cx="367.60" cy="516.05" r="2.7" fill="#1a7f3a"/>
<circle cx="367.60" cy="554.46" r="2.7" fill="#1a7f3a"/>
<polyline fill="none" stroke="#2c43a6" stroke-width="1.80" stroke-linejoin="round" stroke-linecap="butt" points="514.10,356.81 514.92,432.90 515.75,370.90 516.57,460.68 517.40,447.80 518.22,462.69 519.04,476.78 519.87,484.43 520.69,433.30 521.52,448.60 522.34,444.58 523.16,486.04 523.99,399.89 524.81,498.93 525.64,440.55 526.46,412.37 527.28,467.12 528.11,349.56 528.93,440.55 529.76,401.90 530.58,448.60 531.40,492.89 532.23,537.98 533.05,460.68 533.88,378.55 534.70,432.50 535.52,459.47 536.35,459.47 537.17,424.45 538.00,402.30 538.82,448.60 539.64,492.89 540.47,551.67 541.29,508.99 542.12,476.78 542.94,457.46 543.76,516.24 544.59,442.97 545.41,446.59 546.24,436.52 547.06,427.67 547.88,426.06 548.71,407.54 549.53,444.58 550.36,486.04 551.18,482.82 552.00,480.81 552.83,494.90 553.65,468.73 554.48,432.50 555.30,406.33 556.12,445.38 556.95,458.67 557.77,462.69 558.60,468.73 559.42,474.77 560.24,460.68 561.07,444.58 561.89,438.54 562.72,431.69 563.54,512.21 564.36,468.73 565.19,432.50 566.01,394.65 566.84,460.68 567.66,521.07 568.48,406.33 569.31,454.64 570.13,454.64 570.96,476.78 571.78,539.59 572.60,460.68 573.43,388.61 574.25,424.04 575.08,444.58 575.90,474.77 576.72,448.60 577.55,420.42 578.37,379.76 579.20,440.55 580.02,483.23 580.84,444.58 581.67,406.33 582.49,422.43 583.32,440.55 584.14,480.81 584.96,533.15 585.79,490.88 586.61,490.07 587.44,456.65 588.26,428.47 589.08,410.36 589.91,424.45 590.73,407.13 591.56,456.65 592.38,496.11 593.20,459.87 594.03,468.73 594.85,508.19 595.68,498.93 596.50,464.71 597.32,433.30 598.15,476.78 598.97,448.60 599.80,422.84 600.62,426.46 601.44,420.82 602.27,472.76 603.09,521.88 603.92,468.73 604.74,412.77 605.56,462.69 606.39,448.20 607.21,506.17 608.04,472.76 608.86,516.24 609.68,431.69 610.51,468.73 611.33,508.99 612.16,554.08 612.98,492.89 613.80,460.68 614.63,444.58 615.45,531.94 616.28,443.37 617.10,521.88 617.92,431.29 618.75,465.51 619.57,432.50 620.40,393.85 621.22,416.39 622.04,401.50 622.87,513.42 623.69,455.04 624.52,466.72 625.34,460.28 626.16,473.56 626.99,456.65 627.81,438.13 628.64,480.81 629.46,531.54 630.28,404.32 631.11,456.65 631.93,488.86 632.76,472.76 633.58,449.81 634.40,506.58 635.23,464.71 636.05,437.33 636.88,440.55 637.70,378.15 638.52,460.68 639.35,428.47 640.17,336.68 641.00,516.64 641.82,484.84 642.64,467.52 643.47,476.78 644.29,501.75 645.12,480.81 645.94,465.51 646.76,476.78 647.59,532.34 648.41,472.76 649.24,437.33 650.06,451.82 650.88,436.52 651.71,423.64 652.53,443.37 653.36,480.81 654.18,517.04 655.00,472.76 655.83,434.51 656.65,468.73 657.48,482.82 658.30,464.71 659.12,438.94 659.95,480.81 660.77,523.89 661.60,476.78 662.42,440.55 663.24,452.63 664.07,455.85 664.89,476.78 665.72,501.75 666.54,484.84 667.36,466.72 668.19,461.08 669.01,488.86 669.84,508.99 670.66,440.55 671.48,373.32 672.31,460.68 673.13,506.17 673.96,428.87 674.78,460.68 675.60,424.45 676.43,396.26 677.25,444.58 678.08,482.82"/>
<polyline fill="none" stroke="#e0262f" stroke-width="1.10" stroke-linejoin="round" stroke-linecap="butt" points="514.10,417.85 514.92,417.96 515.75,418.53 516.57,417.77 517.40,417.21 518.22,417.22 519.04,417.09 519.87,416.13 520.69,416.51 521.52,416.36 522.34,415.45 523.16,415.79 523.99,415.26 524.81,415.61 525.64,415.45 526.46,415.93 527.28,415.46 528.11,415.23 528.93,415.57 529.76,415.36 530.58,415.42 531.40,416.01 532.23,415.34 533.05,415.50 533.88,415.78 534.70,416.04 535.52,415.24 536.35,415.62 537.17,415.38 538.00,415.22 538.82,415.38 539.64,415.15 540.47,415.63 541.29,415.21 542.12,415.52 542.94,415.01 543.76,415.04 544.59,415.76 545.41,415.69 546.24,415.58 547.06,414.83 547.88,415.31 548.71,415.09 549.53,415.38 550.36,415.45 551.18,415.83 552.00,416.14 552.83,415.41 553.65,414.90 554.48,414.09 555.30,413.80 556.12,413.33 556.95,413.17 557.77,412.81 558.60,412.89 559.42,413.15 560.24,412.25 561.07,411.92 561.89,411.80 562.72,411.96 563.54,411.64 564.36,411.96 565.19,411.18 566.01,411.26 566.84,411.37 567.66,411.43 568.48,410.52 569.31,410.23 570.13,410.95 570.96,410.11 571.78,410.34 572.60,410.44 573.43,410.15 574.25,409.59 575.08,409.39 575.90,410.09 576.72,409.44 577.55,409.89 578.37,409.14 579.20,409.41 580.02,408.78 580.84,408.54 581.67,408.85 582.49,408.23 583.32,408.75 584.14,408.82 584.96,408.17 585.79,408.58 586.61,408.27 587.44,407.92 588.26,407.58 589.08,407.87 589.91,407.86 590.73,406.95 591.56,407.37 592.38,406.63 593.20,406.58 594.03,406.96 594.85,406.77 595.68,406.91 596.50,407.00 597.32,407.24 598.15,407.48 598.97,407.62 599.80,407.51 600.62,407.73 601.44,407.60 602.27,407.12 603.09,407.39 603.92,407.13 604.74,406.27 605.56,406.59 606.39,406.44 607.21,406.84 608.04,406.33 608.86,406.05 609.68,406.47 610.51,405.77 611.33,405.64 612.16,406.07 612.98,405.40 613.80,405.42 614.63,405.08 615.45,405.26 616.28,404.79 617.10,404.62 617.92,405.18 618.75,405.01 619.57,404.28 620.40,403.87 621.22,404.41 622.04,404.07 622.87,403.79 623.69,403.90 624.52,403.72 625.34,403.62 626.16,403.42 626.99,403.05 627.81,403.19 628.64,402.97 629.46,402.44 630.28,402.96 631.11,402.24 631.93,401.87 632.76,402.08 633.58,401.97 634.40,401.20 635.23,401.55 636.05,401.40 636.88,400.96 637.70,400.50 638.52,401.21 639.35,401.13 640.17,401.26 641.00,400.91 641.82,401.42 642.64,401.15 643.47,401.75 644.29,401.52 645.12,401.15 645.94,400.86 646.76,401.21 647.59,401.36 648.41,400.99 649.24,400.13 650.06,399.98 650.88,398.92 651.71,398.42 652.53,398.58 653.36,398.41 654.18,397.82 655.00,397.90 655.83,397.66 656.65,398.02 657.48,397.91 658.30,397.43 659.12,396.62 659.95,396.81 660.77,396.41 661.60,396.68 662.42,397.01 663.24,397.36 664.07,397.20 664.89,398.27 665.72,398.76 666.54,397.78 667.36,397.78 668.19,397.61 669.01,398.07 669.84,397.51 670.66,397.46 671.48,397.94 672.31,397.23 673.13,396.95 673.96,396.91 674.78,396.65 675.60,396.47 676.43,396.01 677.25,395.12 678.08,393.85"/>
<rect x="124.30" y="537.80" width="101.00" height="23.30" rx="1.5" fill="#fff" fill-opacity="0.8" stroke="#cccccc" stroke-width="0.75"/>
<line x1="127.30" y1="543.60" x2="142.70" y2="543.60" stroke="#2c43a6" stroke-width="1.80"/>
<text x="148.60" y="546.30" font-size="7.50" fill="#262626">Train Accuracy</text>
<line x1="127.30" y1="554.10" x2="142.70" y2="554.10" stroke="#c5474b" stroke-width="1.80"/>
<text x="148.60" y="556.80" font-size="7.50" fill="#262626">Validation Accuracy</text>
<rect x="281.50" y="548.20" width="135.70" height="12.80" rx="1.5" fill="#fff" fill-opacity="0.8" stroke="#cccccc" stroke-width="0.75"/>
<line x1="284.50" y1="554.50" x2="299.90" y2="554.50" stroke="#1a7f3a" stroke-width="1.80"/>
<circle cx="292.20" cy="554.50" r="2.7" fill="#1a7f3a"/>
<text x="305.80" y="557.20" font-size="7.50" fill="#262626">Validation vs. Train Accuracy</text>
<rect x="553.60" y="329.50" width="83.80" height="24.10" rx="1.5" fill="#fff" fill-opacity="0.8" stroke="#cccccc" stroke-width="0.75"/>
<line x1="556.60" y1="335.80" x2="572.00" y2="335.80" stroke="#2c43a6" stroke-width="1.80"/>
<text x="577.90" y="338.50" font-size="7.50" fill="#262626">Train Loss</text>
<line x1="556.60" y1="346.40" x2="572.00" y2="346.40" stroke="#e0262f" stroke-width="1.80"/>
<text x="577.90" y="349.10" font-size="7.50" fill="#262626">Validation Loss</text>
</svg>
<div class="cap" style="left:1px;top:264.2px;width:296.6px"><div style="text-align-last:justify">(a) Performance Comparison of Pre-</div><div style="word-spacing:1.2px">trained models with classifiers.</div></div>
<div class="cap" style="left:381.5px;top:264.2px;width:296.6px"><div style="text-align-last:justify">(b) Training time heatmap of Pre-</div><div style="word-spacing:1.2px">trained models with classifiers.</div></div>
<div class="cap" style="left:137.1px;top:604.6px;width:420px;white-space:nowrap;letter-spacing:1.05px;word-spacing:2.1px;line-height:22px">(c) Training and Validation Accuracy Over Epochs.</div>
</body></html>
